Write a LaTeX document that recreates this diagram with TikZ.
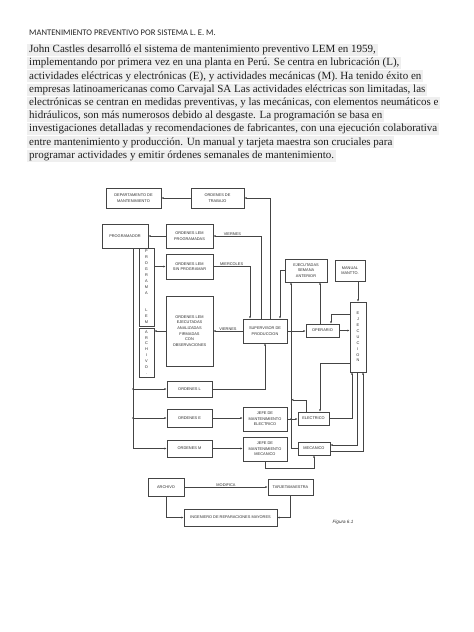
\documentclass[tikz,border=0pt]{standalone}
\usepackage{fontspec}
\setmainfont{Liberation Serif}
\newfontfamily\figfont{Liberation Sans}
\newfontfamily\headfont{Carlito}
\usetikzlibrary{arrows.meta,positioning,calc}
\definecolor{ink}{HTML}{2E2E2E}
\definecolor{wire}{HTML}{444444}
\definecolor{hilite}{HTML}{EFEFEF}
\tikzset{
  >={Latex[length=2.3pt,width=1.9pt]},
  box/.style={draw=wire,line width=0.5pt,fill=white,align=center,inner sep=0pt,text=ink,font=\figfont\fontsize{3.9}{5.6}\selectfont},
  vbox/.style={box,font=\figfont\fontsize{3.9}{5.9}\selectfont},
  sz/.style 2 args={minimum width=#1pt,minimum height=#2pt},
  arrow/.style={->,draw=wire,line width=0.5pt},
  link/.style={draw=wire,line width=0.5pt},
  tag/.style={font=\figfont\fontsize{3.9}{4.5}\selectfont,text=ink,inner sep=0.5pt},
  dot/.style={circle,fill=wire,inner sep=0pt,minimum size=1.6pt},
  para/.style={anchor=west,fill=hilite,inner xsep=2pt,inner ysep=0.5pt,text height=8.1pt,text depth=2.9pt,text=black!88,font=\fontsize{11}{13}\selectfont},
}

\begin{document}
\begin{tikzpicture}[x=1pt,y=-1pt]
  \fill[white] (0,0) rectangle (474,632);
  \useasboundingbox (0,0) rectangle (474,632);

  % Heading and text
  \node[anchor=base west,inner sep=0pt,text=black!85,font=\headfont\fontsize{8.6}{9}\selectfont] (title) at (29,35) {MANTENIMIENTO PREVENTIVO POR SISTEMA L. E. M.};
  \node[para] (l1) at (27,50.0) {John Castles desarrolló el sistema de mantenimiento preventivo LEM en 1959,};
  \node[para] (l2) at (27,63.2) {implementando por primera vez en una planta en Perú. Se centra en lubricación (L),};
  \node[para] (l3) at (27,76.4) {actividades eléctricas y electrónicas (E), y actividades mecánicas (M). Ha tenido éxito en};
  \node[para] (l4) at (27,89.6) {empresas latinoamericanas como Carvajal SA Las actividades eléctricas son limitadas, las};
  \node[para] (l5) at (27,102.8) {electrónicas se centran en medidas preventivas, y las mecánicas, con elementos neumáticos e};
  \node[para] (l6) at (27,116.0) {hidráulicos, son más numerosos debido al desgaste. La programación se basa en};
  \node[para] (l7) at (27,129.2) {investigaciones detalladas y recomendaciones de fabricantes, con una ejecución colaborativa};
  \node[para] (l8) at (27,142.4) {entre mantenimiento y producción. Un manual y tarjeta maestra son cruciales para};
  \node[para] (l9) at (27,155.6) {programar actividades y emitir órdenes semanales de mantenimiento.};

  % Programming side
  \node[box,sz={55}{20}] (dept) at (133.5,198) {DEPARTAMENTO DE\\MANTENIMIENTO};
  \node[box,sz={53}{20}] (ordtrab) at (217.5,198) {ORDENES DE\\TRABAJO};
  \node[box,sz={46}{24}] (prog) at (125,236) {PROGRAMADOR};
  \node[box,sz={47}{24}] (lemprog) at (189.5,236) {ORDENES LEM\\PROGRAMADAS};
  \node[box,sz={47}{25}] (lemsin) at (189.5,266.5) {ORDENES LEM\\SIN PROGRAMAR};
  \node[box,sz={47}{70}] (lemejec) at (189.5,331) {ORDENES LEM\\EJECUTADAS\\ANALIZADAS\\FIRMADAS\\CON\\OBSERVACIONES};
  \node[vbox,sz={15}{78}] (lembar) at (146.5,287) {P\\R\\O\\G\\R\\A\\M\\A\\~\\~\\L\\E\\M};
  \node[vbox,sz={15}{49}] (archbar) at (146.5,352.5) {A\\R\\C\\H\\I\\V\\O\\.};
  \node[box,sz={45}{16}] (ordL) at (189.5,389) {ORDENES L};
  \node[box,sz={45}{18}] (ordE) at (189.5,418) {ORDENES E};
  \node[box,sz={45}{17}] (ordM) at (189.5,448.5) {ORDENES M};

  % Execution side
  \node[box,sz={44}{24}] (super) at (265,331) {SUPERVISOR DE\\PRODUCCION};
  \node[box,sz={42}{23}] (ejsem) at (306,270.5) {EJECUTADAS\\SEMANA\\ANTERIOR};
  \node[box,sz={30}{21}] (manual) at (350,270.5) {MANUAL\\MANTTO.};
  \node[vbox,sz={16}{70}] (ejec) at (358,337) {E\\J\\E\\C\\U\\C\\I\\O\\N};
  \node[box,sz={33}{13}] (operario) at (322.5,330.5) {OPERARIO};
  \node[box,sz={44}{24}] (jefeE) at (265,419) {JEFE DE\\MANTENIMIENTO\\ELECTRICO};
  \node[box,sz={44}{24}] (jefeM) at (265,449) {JEFE DE\\MANTENIMIENTO\\MECANICO};
  \node[box,sz={31}{13}] (elec) at (313.5,418.5) {ELECTRICO};
  \node[box,sz={32}{13}] (mec) at (314,448.5) {MECANICO};

  % Master card
  \node[box,sz={36}{18}] (archivo) at (166,487) {ARCHIVO};
  \node[box,sz={45}{16}] (tarjeta) at (290.5,487) {TARJETAMAESTRA};
  \node[box,sz={93}{17}] (ingen) at (230.5,517.5) {INGENIERO DE REPARACIONES MAYORES};
  \node[font=\figfont\itshape\fontsize{4.6}{5}\selectfont,text=ink] (fig) at (343,522) {Figura 6.1};

  \coordinate (trunk) at ([xshift=8pt]prog.south);
  \coordinate (vt) at ([xshift=-15pt]ejsem.south);

  % Connectors, top
  \draw[arrow] (ordtrab.west) -- (dept.east);
  \draw[arrow] ([xshift=5pt]super.north) |- (ordtrab.east);
  \draw[arrow] ([xshift=-4pt]super.north) |- node[tag,pos=0.8,above]{VIERNES} (lemprog.east);
  \draw[arrow] (lemsin.east) -| node[tag,pos=0.25,above]{MIERCOLES} ([xshift=-15pt]super.north);
  \draw[arrow] (ejsem.west) -| ([xshift=15pt]super.north);
  \draw[arrow] (lemprog.west) -- (prog.east);
  \draw[arrow] (lembar.east |- lemsin.west) -- (lemsin.west);
  \draw[arrow] (lemejec.west) -- (lemejec.west -| archbar.east);
  \draw[arrow] (super.west) -- node[tag,above]{VIERNES} (lemejec.east);

  % Connectors, orders
  \draw[arrow] (trunk) |- (ordM.west);
  \draw[arrow] (trunk |- ordL.west) -- (ordL.west);
  \draw[arrow] (trunk |- ordE.west) -- (ordE.west);
  \node[dot] (dL) at (trunk |- ordL.west) {};
  \node[dot] (dE) at (trunk |- ordE.west) {};
  \draw[arrow] (ordL.east) -| (super.south);
  \draw[arrow] (ordE.east) -- (ordE.east -| jefeE.west);
  \draw[arrow] (ordM.east) -- (ordM.east -| jefeM.west);

  % Connectors, execution
  \draw[arrow] (super.east) -- (super.east -| operario.west);
  \draw[arrow] ([xshift=-2.5pt]operario.north) -- ([xshift=-2.5pt]operario.north |- ejsem.south);
  \draw[arrow] ([yshift=23pt]ejec.west) -| ([xshift=8.5pt]operario.north);
  \draw[arrow] (operario.east) -- (operario.east -| ejec.west);
  \draw[arrow] (manual.south -| ejec.north) -- (ejec.north);
  \draw[arrow] (mec.west) -| (vt);
  \draw[arrow] ([xshift=-7.5pt]elec.north) |- ($(elec.north -| vt)+(0,-12)$);
  \draw[arrow] (jefeE.east) -- (jefeE.east -| elec.west);
  \node[dot] (dV) at (vt |- jefeE.east) {};
  \draw[arrow] (jefeM.south) -- ++(0,7) -| (mec.south);
  \draw[arrow] ([yshift=-26pt]ejec.west) -| ([xshift=6.5pt]elec.north);
  \draw[arrow] (elec.east) -| ([xshift=-6pt]ejec.south);
  \draw[arrow] ([xshift=-1pt]ejec.south) |- ([yshift=3.5pt]mec.east);
  \draw[arrow] ([yshift=-2.5pt]mec.east) -| ([xshift=5pt]ejec.south);

  % Connectors, master card
  \draw[arrow] (archivo.east) -- node[tag,above]{MODIFICA} (tarjeta.west);
  \draw[arrow] (archivo.south) |- (ingen.west);
  \draw[arrow] (tarjeta.south) |- (ingen.east);
\end{tikzpicture}
\end{document}
